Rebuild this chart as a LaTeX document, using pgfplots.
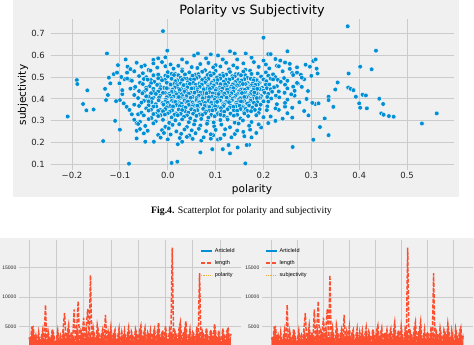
\documentclass[border=0pt]{standalone}
\usepackage{fontspec}
\setmainfont{DejaVu Sans}
\newfontfamily\capfont{Liberation Serif}
\newfontfamily\lowfont{Liberation Sans}
\usepackage{pgfplots}
\pgfplotsset{compat=1.18}
\usepackage{pgfplotstable}
\definecolor{bgc}{HTML}{F0F0F0}
\definecolor{gridc}{HTML}{CBCBCB}
\definecolor{c1}{HTML}{008FD5}
\definecolor{c2}{HTML}{FC4F30}
\definecolor{c3}{HTML}{E5AE38}

% length series; base = same series with the tall spikes cut (solid body of the dense line)
\pgfplotstableread{
idx len base
0 3200 3200
1 2500 2500
2 4900 4900
3 5000 5000
4 2700 2700
5 3600 3600
6 2400 2400
7 4100 4100
8 2300 2300
9 3300 3300
10 4500 4500
11 2200 2200
12 8700 4300
13 2100 2100
14 4200 4200
15 2900 2900
16 2700 2700
17 4600 4600
18 3800 3800
19 2300 2300
20 2800 2800
21 4400 4400
22 2600 2600
23 3500 3500
24 2100 2100
25 4700 4700
26 7300 3900
27 2700 2700
28 3900 3900
29 5300 5300
30 2500 2500
31 4100 4100
32 3000 3000
33 7900 3600
34 2200 2200
35 5200 5200
36 9300 4400
37 2300 2300
38 4300 4300
39 3600 3600
40 6500 4000
41 2700 2700
42 5100 5100
43 8000 3800
44 2400 2400
45 13700 4200
46 2500 2500
47 4800 4800
48 3400 3400
49 2100 2100
50 5300 5300
51 4000 4000
52 2700 2700
53 3700 3700
54 4600 4600
55 2600 2600
56 7000 4100
57 2300 2300
58 4200 4200
59 3100 3100
60 5000 5000
61 2500 2500
62 3900 3900
63 4500 4500
64 2200 2200
65 3300 3300
66 4700 4700
67 2100 2100
68 4100 4100
69 2900 2900
70 4400 4400
71 2700 2700
72 3600 3600
73 4900 4900
74 2300 2300
75 4200 4200
76 3500 3500
77 2200 2200
78 4600 4600
79 3800 3800
80 2500 2500
81 4300 4300
82 5200 5200
83 2700 2700
84 3700 3700
85 4800 4800
86 2100 2100
87 4000 4000
88 3200 3200
89 4500 4500
90 2600 2600
91 3900 3900
92 4700 4700
93 2300 2300
94 4100 4100
95 5700 5700
96 2700 2700
97 3600 3600
98 4400 4400
99 2500 2500
100 5100 5100
101 3300 3300
102 2200 2200
103 4600 4600
104 3800 3800
105 18300 4500
106 2300 2300
107 4200 4200
108 3500 3500
109 2700 2700
110 4700 4700
111 5800 5800
112 2100 2100
113 3900 3900
114 4400 4400
115 5900 5900
116 2500 2500
117 3200 3200
118 4600 4600
119 2200 2200
120 4100 4100
121 3700 3700
122 2300 2300
123 5000 5000
124 2700 2700
125 14000 4300
126 2500 2500
127 4300 4300
128 3600 3600
129 2600 2600
130 4800 4800
131 3400 3400
132 2300 2300
133 4500 4500
134 3900 3900
135 2700 2700
136 5500 5500
137 3800 3800
138 2100 2100
139 4400 4400
140 3100 3100
141 2200 2200
142 4700 4700
143 3500 3500
144 2500 2500
145 4200 4200
146 4900 4900
147 2300 2300
148 3800 3800
}\lentable

\pgfplotsset{
  lowerplot/.style={
    anchor=south west, scale only axis, height=105pt,
    xmin=-7.4, xmax=155.4, ymin=1920, ymax=19600,
    axis line style={draw=none}, major tick length=0pt,
    grid=major, grid style={gridc, line width=0.7pt},
    xtick={0,20,40,60,80,100,120,140}, xticklabels={},
    ytick={5000,10000,15000}, yticklabels={5000,10000,15000},
    scaled y ticks=false,
    yticklabel style={font=\lowfont\fontsize{5}{6}\selectfont, text=black!85, inner sep=0pt, anchor=east, xshift=-2.5pt},
    legend image code/.code={\draw[##1] (0pt,0pt) -- (11pt,0pt);},
    legend cell align=left,
  },
  lowerlegend/.style={draw=none, fill=none,
    font=\lowfont\fontsize{5.5}{6}\selectfont, row sep=2.8pt, inner sep=0pt},
}

\begin{document}
\begin{tikzpicture}[x=1pt,y=1pt]
\useasboundingbox (0,0) rectangle (474,345);
\fill[bgc] (13,148) rectangle (459,345);
\fill[bgc] (0,0) rectangle (474,107);
\node[font=\capfont\fontsize{9.8}{11}\selectfont] at (241.5,134) {\textbf{Fig.4.} Scatterplot for polarity and subjectivity};

\begin{axis}[at={(50.5pt,174.5pt)}, anchor=south west, scale only axis,
  width=403pt, height=151pt,
  xmin=-0.245, xmax=0.597, ymin=0.074, ymax=0.762,
  axis line style={draw=none}, major tick length=0pt,
  grid=major, grid style={gridc, line width=0.9pt},
  xtick={-0.2,-0.1,0,0.1,0.2,0.3,0.4,0.5},
  xticklabels={−0.2,−0.1,0.0,0.1,0.2,0.3,0.4,0.5},
  ytick={0.1,0.2,0.3,0.4,0.5,0.6,0.7},
  yticklabels={0.1,0.2,0.3,0.4,0.5,0.6,0.7},
  ticklabel style={font=\fontsize{8.5}{9}\selectfont, text=black!85},
  xticklabel style={anchor=center, yshift=-5.2pt},
  yticklabel style={anchor=east, inner sep=0pt, xshift=-5.5pt},
  title={Polarity vs Subjectivity}, xlabel={polarity}, ylabel={subjectivity},
  every axis title/.style={at={(0.5,1.0563)}, anchor=center, font=\fontsize{12.8}{14}\selectfont},
  every axis x label/.style={at={(0.5,-0.129)}, anchor=center, font=\fontsize{10.5}{12}\selectfont},
  every axis y label/.style={at={(-0.0682,0.5)}, anchor=center, rotate=90, font=\fontsize{10.5}{12}\selectfont},
]
\addplot[only marks, mark=*, mark size=2.35pt, mark options={fill=c1, draw=white, line width=0.35pt}] coordinates {
(-0.209,0.320) (-0.190,0.486) (-0.189,0.468) (-0.177,0.377) (-0.168,0.439) (-0.170,0.348) (-0.155,0.352) (-0.135,0.208) (-0.127,0.607) (-0.131,0.446) (-0.125,0.418) (-0.129,0.395) (-0.123,0.497) (-0.120,0.471) (-0.110,0.300) (-0.113,0.513) (-0.104,0.554) (-0.101,0.471) (-0.100,0.260) (-0.088,0.580) (-0.081,0.105) (-0.095,0.422) (-0.100,0.395) (-0.084,0.547) (-0.079,0.486) (-0.086,0.364) (-0.065,0.255) (-0.065,0.220) (-0.047,0.205) (-0.029,0.205) (-0.010,0.709) (-0.001,0.620) (0.008,0.108) (0.020,0.114) (0.021,0.194) (0.040,0.228) (0.047,0.228) (0.068,0.156) (0.090,0.219) (0.093,0.171) (0.115,0.171) (0.130,0.152) (0.127,0.190) (0.146,0.179) (0.162,0.106) (0.170,0.191) (0.200,0.679) (0.261,0.181) (0.304,0.214) (0.318,0.272) (0.336,0.235) (0.376,0.731) (0.435,0.620) (0.378,0.516) (0.377,0.452) (0.382,0.446) (0.388,0.440) (0.355,0.475) (0.350,0.443) (0.346,0.364) (0.336,0.410) (0.336,0.395) (0.393,0.410) (0.400,0.380) (0.402,0.360) (0.402,0.547) (0.407,0.419) (0.414,0.416) (0.416,0.357) (0.426,0.535) (0.442,0.401) (0.446,0.334) (0.450,0.377) (0.451,0.328) (0.462,0.322) (0.472,0.319) (0.531,0.288) (0.562,0.334)
(0.293,0.436) (0.304,0.573) (0.309,0.580) (0.311,0.538) (0.313,0.516) (0.297,0.547) (0.300,0.505) (0.288,0.556) (0.308,0.377) (0.302,0.382) (0.315,0.380) (0.328,0.311) (0.294,0.325) (0.290,0.400) (0.280,0.455) (0.272,0.470) (0.285,0.490) (0.270,0.520) (0.265,0.415) (0.275,0.385) (0.260,0.360) (0.250,0.335) (0.240,0.310) (0.232,0.350) (0.245,0.365) (0.215,0.320) (0.225,0.300) (0.260,0.315) (0.210,0.290) (0.195,0.270) (0.172,0.260) (0.158,0.250) (0.165,0.190) (0.133,0.225) (0.285,0.345) (0.278,0.510) (0.255,0.560) (0.235,0.575)
(-0.095,0.440) (-0.090,0.490) (-0.085,0.520) (-0.092,0.380) (-0.080,0.350) (-0.075,0.330) (-0.070,0.305) (-0.065,0.290) (-0.062,0.330) (-0.070,0.450) (-0.106,0.520) (-0.097,0.500) (-0.108,0.390)
(0.055,0.598) (0.063,0.607) (0.090,0.603) (0.105,0.598) (0.130,0.617) (0.140,0.607) (0.163,0.607) (0.210,0.604) (0.215,0.604) (0.250,0.617) (-0.020,0.585) (-0.005,0.590) (0.080,0.585) (0.115,0.580) (0.175,0.588) (0.200,0.575) (0.225,0.582) (-0.030,0.578) (0.030,0.580) (0.145,0.580)
(0.030,0.205) (0.070,0.210) (0.095,0.235) (0.105,0.215) (0.140,0.240) (0.160,0.230) (0.185,0.245) (0.175,0.225)
(-0.065,0.565) (-0.048,0.553) (-0.030,0.562) (-0.012,0.568) (0.006,0.557) (0.022,0.551) (0.040,0.566) (0.068,0.559) (0.085,0.564) (0.100,0.554) (0.122,0.565) (0.137,0.553) (0.158,0.562) (0.180,0.568) (0.205,0.557) (0.228,0.551) (0.245,0.566)
(-0.078,0.536) (-0.055,0.547) (-0.040,0.532) (-0.022,0.543) (-0.005,0.549) (0.012,0.538) (0.030,0.534) (0.050,0.545) (0.062,0.541) (0.078,0.531) (0.095,0.544) (0.110,0.548) (0.128,0.535) (0.145,0.542) (0.162,0.533) (0.190,0.546) (0.212,0.539) (0.232,0.549) (0.255,0.537) (0.270,0.544)
(-0.070,0.526) (-0.052,0.517) (-0.036,0.529) (-0.020,0.512) (0.000,0.522) (0.015,0.515) (0.030,0.527) (0.045,0.521) (0.058,0.511) (0.072,0.524) (0.088,0.518) (0.100,0.528) (0.115,0.514) (0.130,0.523) (0.142,0.513) (0.158,0.525) (0.172,0.529) (0.188,0.516) (0.205,0.521) (0.220,0.512) (0.240,0.526) (0.260,0.518)
(-0.020,0.511) (-0.005,0.506) (0.008,0.514) (0.022,0.508) (0.036,0.512) (0.050,0.505) (0.064,0.513) (0.083,0.509) (0.096,0.515) (0.109,0.507) (0.122,0.511) (0.135,0.504) (0.148,0.513) (0.162,0.508) (0.175,0.514)
(-0.085,0.493) (-0.060,0.504) (-0.045,0.499) (-0.030,0.508) (-0.015,0.495) (0.000,0.502) (0.013,0.509) (0.027,0.497) (0.040,0.492) (0.052,0.506) (0.065,0.501) (0.078,0.494) (0.090,0.507) (0.103,0.498) (0.116,0.505) (0.128,0.491) (0.140,0.503) (0.153,0.508) (0.166,0.496) (0.180,0.493) (0.195,0.502) (0.210,0.506) (0.225,0.499) (0.243,0.495) (0.262,0.509) (0.280,0.497)
(-0.050,0.491) (-0.035,0.486) (-0.020,0.494) (-0.006,0.488) (0.008,0.492) (0.020,0.485) (0.034,0.493) (0.047,0.489) (0.060,0.495) (0.072,0.487) (0.085,0.491) (0.097,0.484) (0.110,0.493) (0.122,0.488) (0.135,0.494) (0.147,0.486) (0.160,0.490) (0.173,0.492) (0.186,0.485) (0.200,0.489) (0.215,0.493) (0.230,0.487)
(-0.075,0.483) (-0.058,0.474) (-0.042,0.488) (-0.028,0.478) (-0.012,0.485) (0.002,0.471) (0.016,0.481) (0.030,0.487) (0.042,0.476) (0.055,0.489) (0.067,0.473) (0.080,0.482) (0.092,0.475) (0.104,0.486) (0.117,0.479) (0.129,0.488) (0.141,0.477) (0.154,0.484) (0.167,0.472) (0.179,0.485) (0.192,0.474) (0.206,0.481) (0.220,0.489) (0.236,0.478) (0.250,0.483) (0.270,0.473)
(-0.035,0.472) (-0.018,0.466) (-0.002,0.474) (0.013,0.468) (0.027,0.471) (0.040,0.465) (0.053,0.473) (0.066,0.469) (0.078,0.475) (0.090,0.467) (0.102,0.471) (0.114,0.464) (0.126,0.473) (0.138,0.468) (0.151,0.474) (0.164,0.466) (0.177,0.470) (0.190,0.472) (0.205,0.465)
(0.006,0.463) (0.019,0.467) (0.032,0.461) (0.045,0.466) (0.058,0.464) (0.071,0.468) (0.084,0.462) (0.097,0.465) (0.110,0.467) (0.123,0.461) (0.136,0.466) (0.149,0.463) (0.162,0.468) (0.175,0.462) (0.188,0.465)
(-0.068,0.455) (-0.052,0.468) (-0.038,0.458) (-0.022,0.464) (-0.008,0.451) (0.006,0.466) (0.020,0.459) (0.033,0.463) (0.046,0.469) (0.059,0.453) (0.071,0.465) (0.084,0.456) (0.096,0.461) (0.108,0.452) (0.120,0.467) (0.133,0.457) (0.145,0.462) (0.157,0.468) (0.170,0.454) (0.183,0.464) (0.197,0.451) (0.212,0.466) (0.228,0.458) (0.245,0.465) (0.262,0.456)
(-0.045,0.451) (-0.030,0.446) (-0.015,0.454) (0.000,0.448) (0.015,0.452) (0.028,0.445) (0.041,0.453) (0.054,0.449) (0.067,0.455) (0.080,0.447) (0.093,0.451) (0.105,0.444) (0.117,0.453) (0.130,0.448) (0.142,0.454) (0.155,0.446) (0.168,0.450) (0.180,0.452) (0.193,0.445) (0.207,0.449) (0.222,0.453)
(0.010,0.443) (0.023,0.447) (0.036,0.441) (0.049,0.446) (0.062,0.444) (0.075,0.448) (0.088,0.442) (0.101,0.445) (0.114,0.447) (0.127,0.441) (0.140,0.446) (0.153,0.443) (0.166,0.448) (0.179,0.442) (0.192,0.445)
(-0.078,0.447) (-0.060,0.436) (-0.045,0.442) (-0.030,0.432) (-0.016,0.445) (-0.002,0.449) (0.012,0.434) (0.025,0.441) (0.038,0.437) (0.050,0.448) (0.063,0.431) (0.075,0.444) (0.088,0.446) (0.100,0.439) (0.112,0.433) (0.124,0.443) (0.137,0.449) (0.149,0.435) (0.161,0.442) (0.174,0.432) (0.187,0.446) (0.200,0.438) (0.215,0.444) (0.232,0.434) (0.250,0.448) (0.265,0.437)
(-0.050,0.431) (-0.035,0.426) (-0.020,0.434) (-0.006,0.428) (0.008,0.432) (0.022,0.425) (0.035,0.433) (0.048,0.429) (0.061,0.435) (0.074,0.427) (0.087,0.431) (0.100,0.424) (0.112,0.433) (0.125,0.428) (0.137,0.434) (0.150,0.426) (0.162,0.430) (0.175,0.432) (0.188,0.425) (0.202,0.429) (0.218,0.433)
(0.003,0.423) (0.016,0.427) (0.029,0.421) (0.042,0.426) (0.055,0.424) (0.068,0.428) (0.081,0.422) (0.094,0.425) (0.107,0.427) (0.120,0.421) (0.133,0.426) (0.146,0.423) (0.159,0.428) (0.172,0.422) (0.185,0.425)
(-0.070,0.418) (-0.053,0.426) (-0.040,0.411) (-0.025,0.423) (-0.010,0.428) (0.004,0.415) (0.018,0.421) (0.031,0.413) (0.044,0.424) (0.056,0.429) (0.069,0.417) (0.081,0.426) (0.094,0.412) (0.106,0.422) (0.118,0.425) (0.130,0.414) (0.143,0.419) (0.155,0.427) (0.168,0.416) (0.181,0.429) (0.195,0.413) (0.210,0.423) (0.226,0.415) (0.244,0.428) (0.258,0.421)
(-0.045,0.412) (-0.030,0.406) (-0.016,0.414) (-0.002,0.408) (0.012,0.411) (0.026,0.405) (0.039,0.413) (0.052,0.409) (0.065,0.415) (0.078,0.407) (0.091,0.411) (0.104,0.404) (0.116,0.413) (0.129,0.408) (0.141,0.414) (0.154,0.406) (0.167,0.410) (0.180,0.412) (0.193,0.405) (0.208,0.409)
(0.008,0.403) (0.021,0.407) (0.034,0.401) (0.047,0.406) (0.060,0.404) (0.073,0.408) (0.086,0.402) (0.099,0.405) (0.112,0.407) (0.125,0.401) (0.138,0.406) (0.151,0.403) (0.164,0.408) (0.177,0.402) (0.190,0.405)
(-0.062,0.404) (-0.047,0.392) (-0.033,0.401) (-0.018,0.407) (-0.004,0.397) (0.010,0.394) (0.023,0.409) (0.036,0.398) (0.048,0.405) (0.061,0.391) (0.073,0.403) (0.086,0.408) (0.098,0.396) (0.110,0.393) (0.123,0.406) (0.135,0.401) (0.148,0.395) (0.160,0.409) (0.173,0.399) (0.186,0.404) (0.200,0.392) (0.216,0.402) (0.233,0.407) (0.250,0.397)
(-0.050,0.391) (-0.034,0.386) (-0.019,0.394) (-0.005,0.388) (0.009,0.392) (0.022,0.385) (0.035,0.393) (0.048,0.389) (0.060,0.395) (0.072,0.387) (0.085,0.391) (0.097,0.384) (0.109,0.393) (0.122,0.388) (0.134,0.394) (0.147,0.386) (0.160,0.390) (0.173,0.392) (0.187,0.385) (0.200,0.389)
(0.000,0.383) (0.013,0.387) (0.026,0.381) (0.039,0.386) (0.052,0.384) (0.065,0.388) (0.078,0.382) (0.091,0.385) (0.104,0.387) (0.117,0.381) (0.130,0.386) (0.143,0.383) (0.156,0.388) (0.169,0.382)
(-0.070,0.374) (-0.055,0.383) (-0.040,0.389) (-0.025,0.376) (-0.011,0.381) (0.003,0.372) (0.016,0.386) (0.029,0.378) (0.042,0.388) (0.054,0.375) (0.066,0.384) (0.079,0.371) (0.091,0.382) (0.103,0.387) (0.116,0.377) (0.128,0.385) (0.141,0.373) (0.153,0.389) (0.166,0.379) (0.180,0.383) (0.194,0.374) (0.210,0.388) (0.228,0.376) (0.245,0.382)
(-0.040,0.371) (-0.024,0.366) (-0.009,0.374) (0.005,0.368) (0.018,0.372) (0.031,0.365) (0.044,0.373) (0.056,0.369) (0.068,0.375) (0.081,0.367) (0.093,0.371) (0.105,0.364) (0.118,0.373) (0.131,0.368) (0.144,0.374) (0.157,0.366) (0.170,0.370) (0.185,0.372)
(0.012,0.363) (0.025,0.367) (0.038,0.361) (0.051,0.366) (0.064,0.364) (0.077,0.368) (0.090,0.362) (0.103,0.365) (0.116,0.367) (0.129,0.361) (0.142,0.366) (0.155,0.363)
(-0.060,0.368) (-0.045,0.357) (-0.030,0.365) (-0.016,0.351) (-0.002,0.362) (0.011,0.366) (0.024,0.353) (0.037,0.361) (0.050,0.356) (0.062,0.369) (0.074,0.354) (0.087,0.363) (0.099,0.367) (0.111,0.358) (0.124,0.352) (0.137,0.364) (0.150,0.369) (0.163,0.355) (0.177,0.361) (0.192,0.353) (0.208,0.366) (0.225,0.357)
(-0.035,0.351) (-0.020,0.346) (-0.005,0.354) (0.009,0.348) (0.023,0.352) (0.036,0.345) (0.049,0.353) (0.062,0.349) (0.074,0.355) (0.087,0.347) (0.099,0.351) (0.112,0.344) (0.125,0.353) (0.138,0.348) (0.152,0.354) (0.166,0.346) (0.182,0.350)
(-0.055,0.337) (-0.040,0.347) (-0.025,0.332) (-0.010,0.344) (0.004,0.341) (0.017,0.334) (0.030,0.349) (0.043,0.338) (0.056,0.345) (0.068,0.331) (0.080,0.343) (0.093,0.348) (0.105,0.335) (0.118,0.342) (0.131,0.333) (0.145,0.346) (0.159,0.339) (0.174,0.344) (0.190,0.336) (0.207,0.349)
(-0.030,0.331) (-0.015,0.326) (0.000,0.334) (0.014,0.328) (0.027,0.332) (0.040,0.325) (0.053,0.333) (0.066,0.329) (0.078,0.335) (0.091,0.327) (0.104,0.331) (0.117,0.324) (0.131,0.333) (0.145,0.328) (0.160,0.334)
(-0.050,0.325) (-0.034,0.313) (-0.020,0.322) (-0.006,0.329) (0.008,0.316) (0.021,0.326) (0.034,0.319) (0.047,0.312) (0.060,0.323) (0.072,0.327) (0.085,0.315) (0.098,0.321) (0.110,0.328) (0.124,0.314) (0.138,0.324) (0.152,0.311) (0.168,0.322) (0.185,0.326) (0.200,0.317)
(-0.058,0.296) (-0.040,0.308) (-0.025,0.298) (-0.010,0.305) (0.003,0.291) (0.016,0.303) (0.030,0.307) (0.044,0.294) (0.057,0.301) (0.070,0.309) (0.083,0.297) (0.096,0.293) (0.110,0.304) (0.125,0.306) (0.140,0.292) (0.157,0.302) (0.175,0.295)
(-0.062,0.286) (-0.047,0.277) (-0.030,0.289) (-0.005,0.273) (0.010,0.282) (0.024,0.285) (0.040,0.272) (0.055,0.284) (0.068,0.279) (0.082,0.287) (0.097,0.275) (0.112,0.283) (0.130,0.271) (0.148,0.288) (0.170,0.278) (0.190,0.284)
(-0.058,0.263) (-0.042,0.255) (-0.012,0.258) (0.002,0.266) (0.018,0.252) (0.035,0.261) (0.050,0.257) (0.065,0.264) (0.080,0.253) (0.100,0.259) (0.120,0.262) (0.145,0.256)
(-0.050,0.243) (-0.020,0.236) (-0.008,0.245) (0.006,0.238) (0.028,0.241) (0.045,0.234) (0.058,0.244) (0.090,0.239) (0.118,0.237)
(-0.015,0.224) (0.000,0.216) (0.025,0.222) (0.040,0.227) (0.052,0.218) (0.075,0.225) (0.110,0.219)
};
\end{axis}

\begin{axis}[lowerplot, at={(19pt,0pt)}, width=222pt,
  legend style={lowerlegend, at={(1,1)}, anchor=north east, xshift=-4pt, yshift=-6pt}]
\addlegendimage{c1, line width=1.5pt}
\addlegendentry{ArticleId}
\addplot[c2, line width=1.5pt, dash pattern=on 4pt off 1.6pt] table[x=idx, y=len] {\lentable};
\addlegendentry{length}
\addlegendimage{c3, line width=1.5pt, dash pattern=on 1.2pt off 1pt}
\addlegendentry{polarity}
\addplot[draw=none, fill=c2, forget plot] table[x=idx, y=base] {\lentable} \closedcycle;
\end{axis}

\begin{axis}[lowerplot, at={(262pt,0pt)}, width=211pt,
  legend style={lowerlegend, at={(0,1)}, anchor=north west, xshift=3pt, yshift=-6pt}]
\addlegendimage{c1, line width=1.5pt}
\addlegendentry{ArticleId}
\addplot[c2, line width=1.5pt, dash pattern=on 4pt off 1.6pt] table[x=idx, y=len] {\lentable};
\addlegendentry{length}
\addlegendimage{c3, line width=1.5pt, dash pattern=on 1.2pt off 1pt}
\addlegendentry{subjectivity}
\addplot[draw=none, fill=c2, forget plot] table[x=idx, y=base] {\lentable} \closedcycle;
\end{axis}
\end{tikzpicture}
\end{document}
